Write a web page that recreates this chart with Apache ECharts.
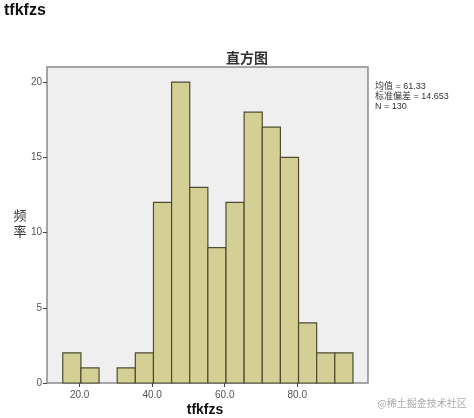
<!DOCTYPE html>
<html><head><meta charset="utf-8">
<script src="https://cdn.jsdelivr.net/npm/echarts@6/dist/echarts.min.js"></script>
<style>html,body{margin:0;padding:0;background:#fff}#c{width:474px;height:418px}</style>
</head><body><div id="c"></div>
<script>
// bin edges (start of each bin) and bin width
var binStarts = [15.35, 20.35, 25.35, 30.35, 35.35, 40.35, 45.35, 50.35, 55.35, 60.35, 65.35, 70.35, 75.35, 80.35, 85.35, 90.35];
var binWidth = 5;
var counts = [2, 1, 0, 1, 2, 12, 20, 13, 9, 12, 18, 17, 15, 4, 2, 2];
var xTicks = [20, 40, 60, 80];
var yTicks = [0, 5, 10, 15, 20];
var statLabels = ['均值 = 61.33', '标准偏差 = 14.653', 'N = 130'];
var varName = 'tfkfzs';
var chartTitle = '直方图';
var yName = '频率';

var data = binStarts.map(function (s, i) { return [s, s + binWidth, counts[i]]; });
var chart = echarts.init(document.getElementById('c'));
var cjk = '"Noto Sans CJK SC", sans-serif';
chart.setOption({
  animation: false,
  grid: { left: 47, top: 67, right: 106, bottom: 35, show: true, backgroundColor: '#efefef', borderColor: '#8a8a8a', borderWidth: 1.5 },
  xAxis: {
    type: 'value', min: 11, max: 99.5,
    axisLine: { show: false },
    splitLine: { show: false },
    axisTick: { show: true, length: 4, lineStyle: { color: '#444' }, customValues: xTicks },
    axisLabel: { customValues: xTicks, color: '#555', fontSize: 10, fontFamily: 'Arial', margin: 7, formatter: function (v) { return v.toFixed(1); } }
  },
  yAxis: {
    type: 'value', min: 0, max: 21,
    axisLine: { show: false },
    splitLine: { show: false },
    axisTick: { show: true, length: 4, lineStyle: { color: '#444' }, customValues: yTicks },
    axisLabel: { customValues: yTicks, color: '#555', fontSize: 10, fontFamily: 'Arial', margin: 5 }
  },
  series: [{
    type: 'custom',
    data: data,
    encode: { x: [0, 1], y: 2 },
    renderItem: function (params, api) {
      if (api.value(2) <= 0) return null;
      var p0 = api.coord([api.value(0), api.value(2)]);
      var p1 = api.coord([api.value(1), 0]);
      return {
        type: 'rect',
        shape: { x: p0[0], y: p0[1], width: p1[0] - p0[0], height: p1[1] - p0[1] },
        style: { fill: '#d4d095', stroke: '#4f4b30', lineWidth: 1.2 }
      };
    }
  }],
  graphic: [
    { type: 'text', left: 4, top: 3, style: { text: varName, font: 'bold 16px Arial', fill: '#111' } },
    { type: 'text', x: 247, y: 58, style: { text: chartTitle, font: 'bold 14px ' + cjk, fill: '#333', align: 'center', verticalAlign: 'middle' } },
    { type: 'text', x: 375, y: 82, style: { text: statLabels.join('\n'), font: '9px Arial, ' + cjk, fill: '#333', lineHeight: 10 } },
    { type: 'text', x: 20, y: 223, style: { text: yName.split('').join('\n'), font: '13px ' + cjk, fill: '#333', align: 'center', verticalAlign: 'middle', lineHeight: 16 } },
    { type: 'text', x: 205, y: 410, style: { text: varName, font: 'bold 14px Arial', fill: '#111', align: 'center', verticalAlign: 'middle' } },
    { type: 'text', x: 422, y: 403, style: { text: '@稀土掘金技术社区', font: '10px ' + cjk, fill: '#aaa', align: 'center', verticalAlign: 'middle' } }
  ]
});
</script></body></html>
